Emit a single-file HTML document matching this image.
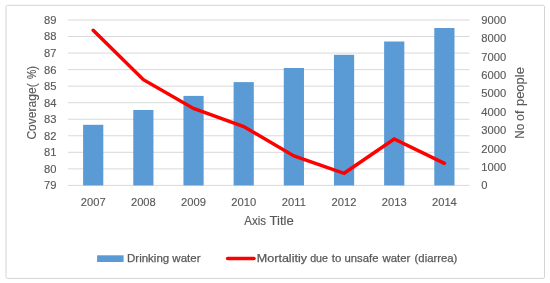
<!DOCTYPE html>
<html><head><meta charset="utf-8"><title>Chart</title>
<style>
html,body{margin:0;padding:0;background:#fff;}
body{width:550px;height:283px;overflow:hidden;}
svg{display:block;}
text{font-family:"Liberation Sans",sans-serif;fill:#595959;stroke:#595959;stroke-width:0.14px;}
.r{stroke-width:0.12px;}
.l{stroke-width:0.25px;}
.a{font-size:11.2px;}
.t{font-size:12.3px;}
</style></head><body>
<svg width="550" height="283" viewBox="0 0 550 283">
<rect x="0" y="0" width="550" height="283" fill="#ffffff"/>
<rect x="6" y="5.3" width="538.5" height="273.1" rx="1.5" fill="#ffffff" stroke="#d4d4d4" stroke-width="1"/>

<g stroke="#d9d9d9" stroke-width="1">
<line x1="67.8" y1="20.00" x2="469.5" y2="20.00"/>
<line x1="67.8" y1="36.54" x2="469.5" y2="36.54"/>
<line x1="67.8" y1="53.08" x2="469.5" y2="53.08"/>
<line x1="67.8" y1="69.62" x2="469.5" y2="69.62"/>
<line x1="67.8" y1="86.16" x2="469.5" y2="86.16"/>
<line x1="67.8" y1="102.70" x2="469.5" y2="102.70"/>
<line x1="67.8" y1="119.24" x2="469.5" y2="119.24"/>
<line x1="67.8" y1="135.78" x2="469.5" y2="135.78"/>
<line x1="67.8" y1="152.32" x2="469.5" y2="152.32"/>
<line x1="67.8" y1="168.86" x2="469.5" y2="168.86"/>
<line x1="67.8" y1="185.40" x2="469.5" y2="185.40"/>
</g>
<g fill="#5b9bd5">
<rect x="83.10" y="124.80" width="20.20" height="60.60"/>
<rect x="133.27" y="110.00" width="20.20" height="75.40"/>
<rect x="183.44" y="95.90" width="20.20" height="89.50"/>
<rect x="233.61" y="82.10" width="20.20" height="103.30"/>
<rect x="283.78" y="68.00" width="20.20" height="117.40"/>
<rect x="333.95" y="54.80" width="20.20" height="130.60"/>
<rect x="384.12" y="41.50" width="20.20" height="143.90"/>
<rect x="434.29" y="28.00" width="20.20" height="157.40"/>
</g>
<polyline points="93.2,30.3 143.4,79.7 193.5,108.4 243.7,126.5 293.9,155.9 344.1,173.3 394.2,139.0 444.4,163.3" fill="none" stroke="#ff0000" stroke-width="3.5" stroke-linecap="round" stroke-linejoin="miter"/>
<g class="a" text-anchor="end">
<text x="56.5" y="23.90">89</text>
<text x="56.5" y="40.44">88</text>
<text x="56.5" y="56.98">87</text>
<text x="56.5" y="73.52">86</text>
<text x="56.5" y="90.06">85</text>
<text x="56.5" y="106.60">84</text>
<text x="56.5" y="123.14">83</text>
<text x="56.5" y="139.68">82</text>
<text x="56.5" y="156.22">81</text>
<text x="56.5" y="172.76">80</text>
<text x="56.5" y="189.30">79</text>
</g>
<g class="a">
<text x="481.3" y="23.90">9000</text>
<text x="481.3" y="42.28">8000</text>
<text x="481.3" y="60.66">7000</text>
<text x="481.3" y="79.03">6000</text>
<text x="481.3" y="97.41">5000</text>
<text x="481.3" y="115.79">4000</text>
<text x="481.3" y="134.17">3000</text>
<text x="481.3" y="152.54">2000</text>
<text x="481.3" y="170.92">1000</text>
<text x="481.3" y="189.30">0</text>
</g>
<g class="a" text-anchor="middle">
<text x="93.20" y="205.7">2007</text>
<text x="143.37" y="205.7">2008</text>
<text x="193.54" y="205.7">2009</text>
<text x="243.71" y="205.7">2010</text>
<text x="293.88" y="205.7">2011</text>
<text x="344.05" y="205.7">2012</text>
<text x="394.22" y="205.7">2013</text>
<text x="444.39" y="205.7">2014</text>
</g>
<text class="t" y="225.2"><tspan x="244.2" textLength="21.8" lengthAdjust="spacingAndGlyphs">Axis</tspan><tspan> </tspan><tspan x="269.5" textLength="24.3" lengthAdjust="spacingAndGlyphs">Title</tspan></text>
<text class="t r" transform="translate(36.3,139.0) rotate(-90)"><tspan x="-0.6" textLength="56.3" lengthAdjust="spacingAndGlyphs">Coverage(</tspan><tspan> </tspan><tspan x="59.9" font-size="13.3" textLength="9.3" lengthAdjust="spacingAndGlyphs">%</tspan><tspan x="68.9">)</tspan></text>
<text class="t r" transform="translate(524,138.3) rotate(-90)"><tspan x="-0.4" textLength="15.1" lengthAdjust="spacingAndGlyphs">No</tspan><tspan> </tspan><tspan x="17.4">of</tspan><tspan> </tspan><tspan x="32.2" textLength="39.1" lengthAdjust="spacingAndGlyphs">people</tspan></text>
<rect x="97.1" y="255.3" width="26.5" height="6.7" fill="#5b9bd5"/>
<text class="a l" x="127" y="262.2" textLength="73.5" lengthAdjust="spacingAndGlyphs">Drinking water</text>
<line x1="227.6" y1="258.5" x2="254.0" y2="258.5" stroke="#ff0000" stroke-width="3.5" stroke-linecap="round"/>
<text class="a l" x="256.8" y="262.2" textLength="50.2" lengthAdjust="spacingAndGlyphs">Mortalitiy</text>
<text class="a l" x="310.2" y="262.2" textLength="17.8" lengthAdjust="spacingAndGlyphs">due</text>
<text class="a l" x="331.7" y="262.2" textLength="9.6" lengthAdjust="spacingAndGlyphs">to</text>
<text class="a l" x="344.5" y="262.2" textLength="34.0" lengthAdjust="spacingAndGlyphs">unsafe</text>
<text class="a l" x="382.5" y="262.2" textLength="27.8" lengthAdjust="spacingAndGlyphs">water</text>
<text class="a l" x="414.6" y="262.2" textLength="42.8" lengthAdjust="spacingAndGlyphs">(diarrea)</text>
</svg></body></html>
